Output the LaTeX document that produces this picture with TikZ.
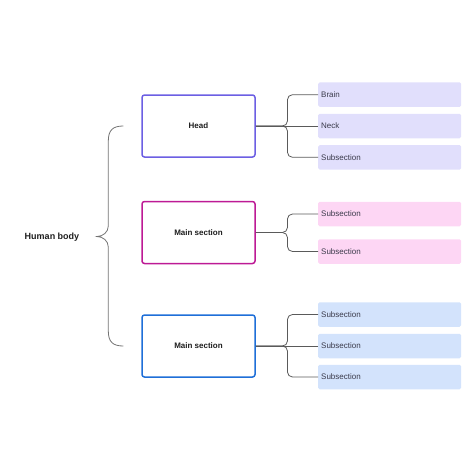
\documentclass[tikz,border=0pt]{standalone}
\usepackage{fontspec}
\setmainfont{Liberation Sans}
\definecolor{purpB}{HTML}{6C5FE3}
\definecolor{purpF}{HTML}{E1DFFC}
\definecolor{pinkB}{HTML}{BD1A95}
\definecolor{pinkF}{HTML}{FDD6F4}
\definecolor{blueB}{HTML}{1F6FD8}
\definecolor{blueF}{HTML}{D3E3FC}
\definecolor{lineC}{HTML}{5A5A5A}
\definecolor{txtC}{HTML}{1E1E1E}
\definecolor{subT}{HTML}{3A3A4A}
\tikzset{
  mainbox/.style={draw, line width=1.5pt, rounded corners=2.5pt, fill=white,
    minimum width=113pt, minimum height=62pt, inner sep=0pt,
    font=\fontsize{8}{10}\selectfont\bfseries, text=txtC},
  subbox/.style={fill=#1, draw=none, rounded corners=1.5pt, anchor=west,
    text width=137pt, inner xsep=3pt, inner ysep=0pt, minimum height=24.5pt,
    align=left, font=\fontsize{8}{10}\selectfont, text=subT},
  conn/.style={draw=lineC, line width=0.8pt, rounded corners=5pt},
  bracel/.style={draw=lineC!85, line width=0.8pt},
  rootlabel/.style={font=\fontsize{9}{11}\selectfont\bfseries, text=txtC}
}
\begin{document}
\begin{tikzpicture}[x=1pt,y=-1pt]
\path[use as bounding box] (0,0) rectangle (474,474);

\node[rootlabel] (root) at (52,237) {Human body};

\node[mainbox, draw=purpB] (h) at (198.5,126) {Head};
\node[mainbox, draw=pinkB] (m) at (198.5,232.5) {Main section};
\node[mainbox, draw=blueB] (k) at (198.5,346) {Main section};

\node[subbox=purpF] (h1) at (318,94.7) {Brain};
\node[subbox=purpF] (h2) at (318,126) {Neck};
\node[subbox=purpF] (h3) at (318,157.3) {Subsection};

\node[subbox=pinkF] (m1) at (318,214) {Subsection};
\node[subbox=pinkF] (m2) at (318,251.5) {Subsection};

\node[subbox=blueF] (k1) at (318,314.5) {Subsection};
\node[subbox=blueF] (k2) at (318,346) {Subsection};
\node[subbox=blueF] (k3) at (318,377) {Subsection};

\foreach \p/\c in {h/h1,h/h3,m/m1,m/m2,k/k1,k/k3}{
  \draw[conn] (\p.east) -- ++(31.7,0) |- (\c.west);
}
\draw[conn] (h.east) -- (h2.west);
\draw[conn] (k.east) -- (k2.west);

\coordinate (bt) at (123.3,126);
\coordinate (bb) at (123.3,346);
\coordinate (tip) at (97,236.5);
\draw[bracel] (bt) .. controls (113,126) and (108.3,130) .. (108.3,141)
  -- (108.3,226) .. controls (108.3,232) and (103,236.5) .. (tip)
  .. controls (103,236.5) and (108.3,241) .. (108.3,247)
  -- (108.3,331) .. controls (108.3,342) and (113,346) .. (bb);
\end{tikzpicture}
\end{document}
